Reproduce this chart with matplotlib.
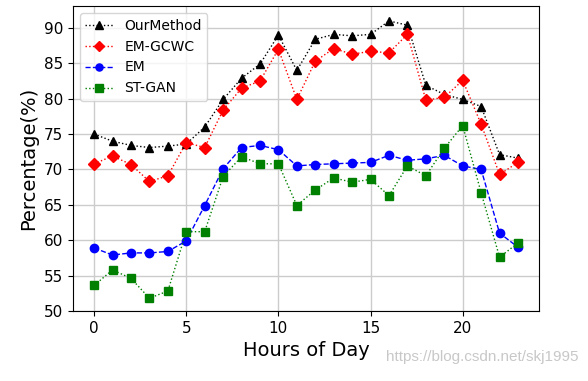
import matplotlib
matplotlib.use('Agg')
import matplotlib.pyplot as plt

hours = list(range(24))
our_method = [75.0, 74.0, 73.4, 73.1, 73.3, 73.6, 76.0, 79.9, 82.9, 84.9, 89.0, 84.0,
              88.4, 89.1, 88.9, 89.1, 91.0, 90.4, 81.9, 80.6, 79.9, 78.9, 72.1, 71.6]
em_gcwc = [70.8, 71.9, 70.7, 68.3, 69.1, 73.8, 73.1, 78.4, 81.5, 82.5, 87.0, 79.9,
           85.3, 87.1, 86.3, 86.7, 86.5, 89.1, 79.8, 80.2, 82.6, 76.4, 69.3, 71.0]
em = [58.9, 57.9, 58.2, 58.2, 58.4, 59.9, 64.9, 70.1, 73.1, 73.4, 72.8, 70.5,
      70.7, 70.8, 70.9, 71.0, 72.0, 71.3, 71.5, 72.0, 70.5, 70.0, 61.0, 59.0]
st_gan = [53.6, 55.8, 54.6, 51.8, 52.8, 61.2, 61.2, 69.0, 71.8, 70.8, 70.8, 64.9,
          67.1, 68.8, 68.2, 68.6, 66.3, 70.5, 69.1, 73.0, 76.2, 66.7, 57.6, 59.6]

fig = plt.figure(figsize=(5.88, 3.81), dpi=100)
ax = fig.add_axes([0.124, 0.184, 0.793, 0.8])

ax.plot(hours, our_method, color='k', linestyle=':', marker='^', linewidth=1, label='OurMethod')
ax.plot(hours, em_gcwc, color='r', linestyle=':', marker='D', linewidth=1, label='EM-GCWC')
ax.plot(hours, em, color='b', linestyle='--', marker='o', linewidth=1, label='EM')
ax.plot(hours, st_gan, color='g', linestyle=':', marker='s', linewidth=1, label='ST-GAN')

ax.set_ylim(50, 93.1)
ax.set_xticks([0, 5, 10, 15, 20])
ax.tick_params(labelsize=11)
ax.grid(True, color='#cccccc', linewidth=1)
ax.set_axisbelow(True)
ax.set_xlabel('Hours of Day', fontsize=14)
ax.set_ylabel('Percentage(%)', fontsize=14)
ax.legend(loc='upper left', fontsize=10, markerscale=0.85)

fig.text(0.983, 0.063, 'https://blog.csdn.net/skj1995', color='#c8c8c8',
         fontsize=11, family='Liberation Sans', ha='right', va='center')

fig.savefig('out.png', dpi=100)
